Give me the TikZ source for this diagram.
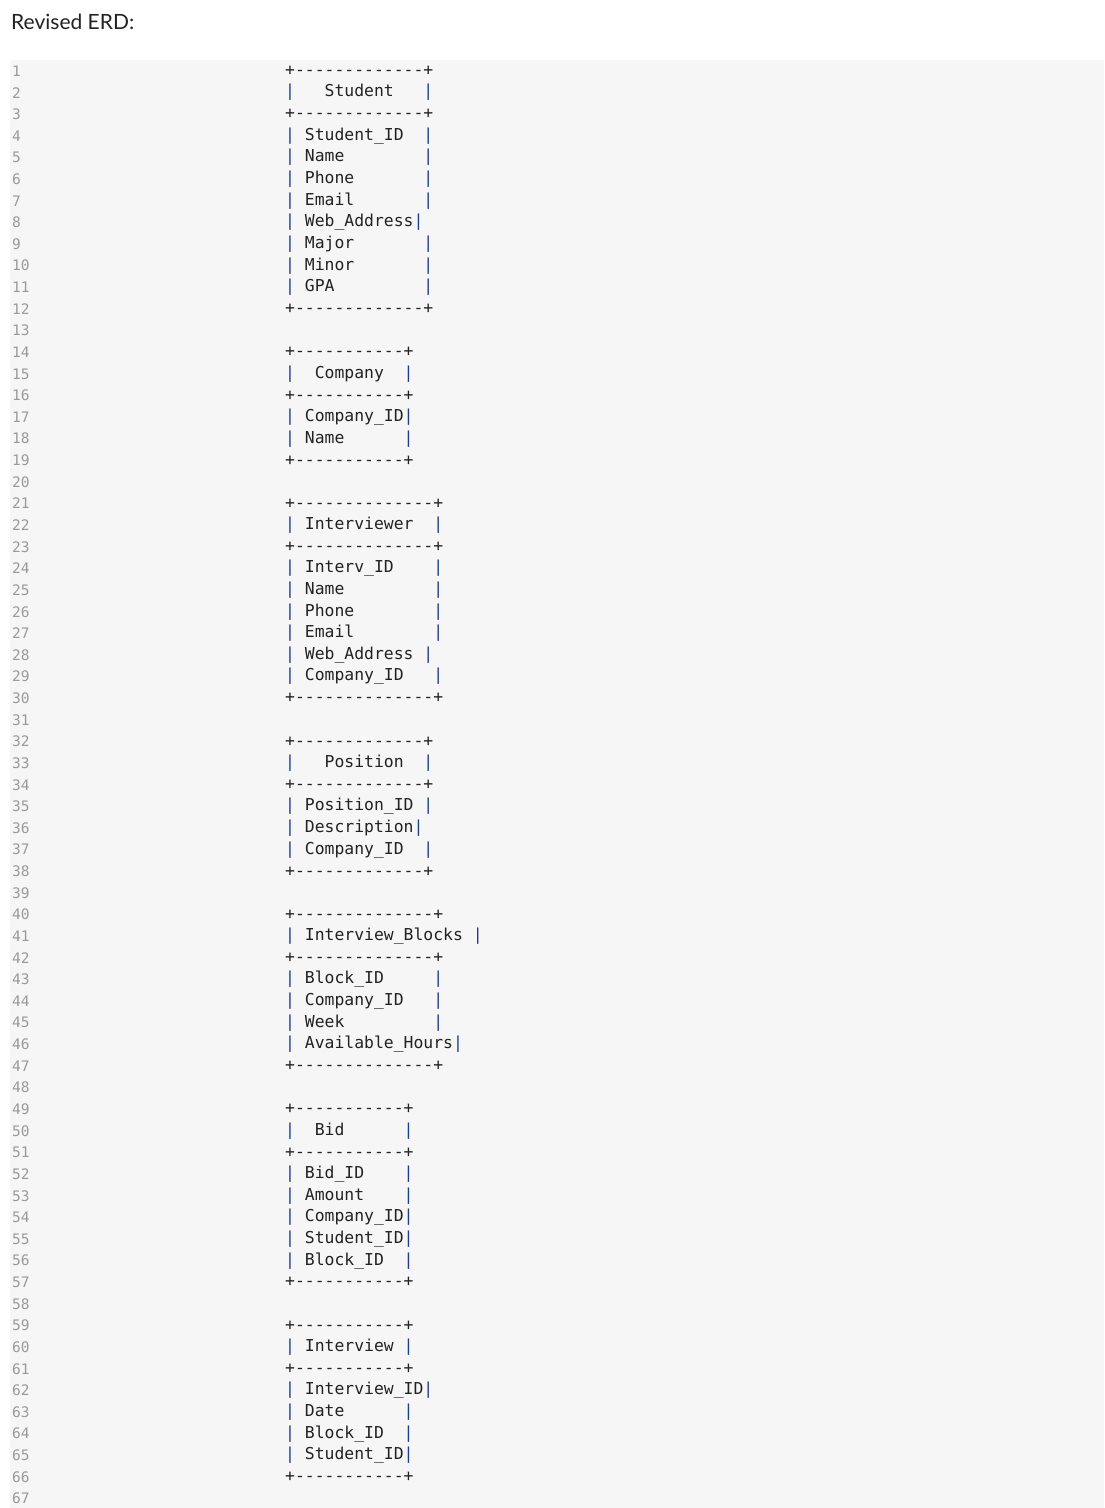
\documentclass[tikz,border=0pt]{standalone}
\usepackage{fontspec}
\setmainfont{Lato}
\newfontfamily\codefont{DejaVu Sans Mono}[Scale=1]
\definecolor{bgc}{HTML}{F6F6F6}
\definecolor{pipec}{HTML}{1F3C88}
\definecolor{numc}{HTML}{9A9A9A}
\definecolor{txtc}{HTML}{222222}
\newcommand\PP{\textcolor{pipec}{|}}
\newcommand\codeline[2]{%
  \node[numtxt] (n#1) at (12pt,{-71pt-(#1-1)*21.63pt}) {#1};
  \node[codetxt] (c#1) at (285pt,{-71pt-(#1-1)*21.63pt}) {#2};}
\begin{document}
\begin{tikzpicture}[x=1pt,y=1pt,
  numtxt/.style={anchor=west,inner sep=0,text=numc,font=\codefont\fontsize{14.5}{14.5}\selectfont},
  codetxt/.style={anchor=west,inner sep=0,text=txtc,font=\codefont\fontsize{16.4}{16.4}\selectfont}]
\useasboundingbox (0,0) rectangle (1104,-1508);
\fill[bgc] (10,-60) rectangle (1104,-1508);
\node[anchor=west,inner sep=0,text=txtc,font=\fontsize{21}{21}\selectfont] (title) at (11,-22) {Revised ERD:};
\codeline{1}{+-------------+}
\codeline{2}{\PP~~~Student~~~\PP}
\codeline{3}{+-------------+}
\codeline{4}{\PP~Student\_ID~~\PP}
\codeline{5}{\PP~Name~~~~~~~~\PP}
\codeline{6}{\PP~Phone~~~~~~~\PP}
\codeline{7}{\PP~Email~~~~~~~\PP}
\codeline{8}{\PP~Web\_Address\PP}
\codeline{9}{\PP~Major~~~~~~~\PP}
\codeline{10}{\PP~Minor~~~~~~~\PP}
\codeline{11}{\PP~GPA~~~~~~~~~\PP}
\codeline{12}{+-------------+}
\codeline{13}{}
\codeline{14}{+-----------+}
\codeline{15}{\PP~~Company~~\PP}
\codeline{16}{+-----------+}
\codeline{17}{\PP~Company\_ID\PP}
\codeline{18}{\PP~Name~~~~~~\PP}
\codeline{19}{+-----------+}
\codeline{20}{}
\codeline{21}{+--------------+}
\codeline{22}{\PP~Interviewer~~\PP}
\codeline{23}{+--------------+}
\codeline{24}{\PP~Interv\_ID~~~~\PP}
\codeline{25}{\PP~Name~~~~~~~~~\PP}
\codeline{26}{\PP~Phone~~~~~~~~\PP}
\codeline{27}{\PP~Email~~~~~~~~\PP}
\codeline{28}{\PP~Web\_Address~\PP}
\codeline{29}{\PP~Company\_ID~~~\PP}
\codeline{30}{+--------------+}
\codeline{31}{}
\codeline{32}{+-------------+}
\codeline{33}{\PP~~~Position~~\PP}
\codeline{34}{+-------------+}
\codeline{35}{\PP~Position\_ID~\PP}
\codeline{36}{\PP~Description\PP}
\codeline{37}{\PP~Company\_ID~~\PP}
\codeline{38}{+-------------+}
\codeline{39}{}
\codeline{40}{+--------------+}
\codeline{41}{\PP~Interview\_Blocks~\PP}
\codeline{42}{+--------------+}
\codeline{43}{\PP~Block\_ID~~~~~\PP}
\codeline{44}{\PP~Company\_ID~~~\PP}
\codeline{45}{\PP~Week~~~~~~~~~\PP}
\codeline{46}{\PP~Available\_Hours\PP}
\codeline{47}{+--------------+}
\codeline{48}{}
\codeline{49}{+-----------+}
\codeline{50}{\PP~~Bid~~~~~~\PP}
\codeline{51}{+-----------+}
\codeline{52}{\PP~Bid\_ID~~~~\PP}
\codeline{53}{\PP~Amount~~~~\PP}
\codeline{54}{\PP~Company\_ID\PP}
\codeline{55}{\PP~Student\_ID\PP}
\codeline{56}{\PP~Block\_ID~~\PP}
\codeline{57}{+-----------+}
\codeline{58}{}
\codeline{59}{+-----------+}
\codeline{60}{\PP~Interview~\PP}
\codeline{61}{+-----------+}
\codeline{62}{\PP~Interview\_ID\PP}
\codeline{63}{\PP~Date~~~~~~\PP}
\codeline{64}{\PP~Block\_ID~~\PP}
\codeline{65}{\PP~Student\_ID\PP}
\codeline{66}{+-----------+}
\codeline{67}{}
\end{tikzpicture}
\end{document}
